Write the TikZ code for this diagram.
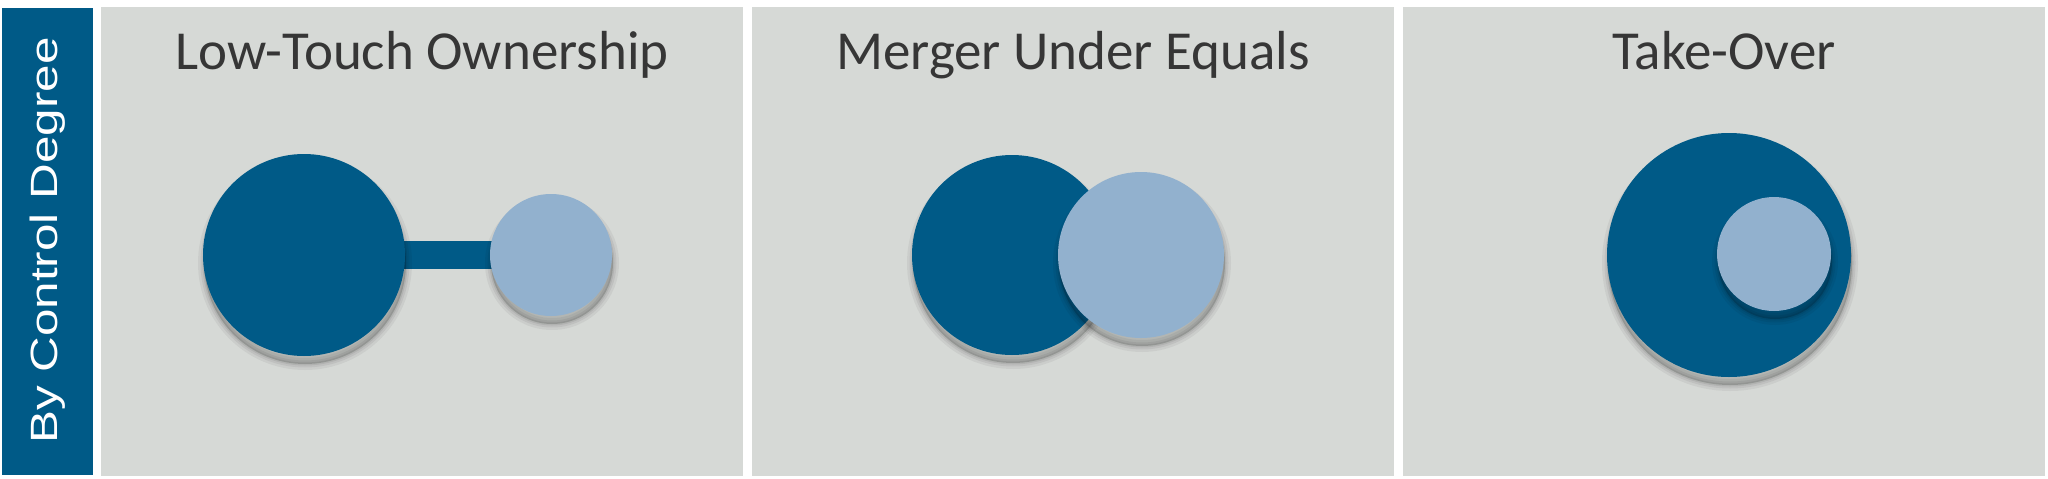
\documentclass[tikz,border=0pt]{standalone}
\usepackage{fontspec}
\usepackage{graphicx}
\setmainfont{Carlito}
\newfontfamily\barfont{Liberation Sans}
\pgfdeclarelayer{panels}
\pgfdeclarelayer{links}
\pgfsetlayers{panels,links,main}
\definecolor{darkblue}{HTML}{005A87}
\definecolor{lightblue}{HTML}{92B1CE}
\definecolor{panelgrey}{HTML}{D6D9D6}
\definecolor{titlegrey}{HTML}{363636}
\begin{document}
\begin{tikzpicture}[x=1pt,y=-1pt]
\tikzset{
 panel/.style={fill=panelgrey, draw=none},
 ttl/.style={anchor=base, text=titlegrey, font=\fontsize{55}{60}\selectfont, inner sep=0pt},
 shd/.style={transform canvas={shift={(1pt,-8pt)}}},
 disc/.style={circle, inner sep=0pt, draw=none,
   preaction={shd, fill=black, fill opacity=0.16, draw=black, draw opacity=0.05, line width=12pt},
   preaction={shd, draw=black, draw opacity=0.06, line width=7pt},
   preaction={shd, draw=black, draw opacity=0.07, line width=3pt}},
 darkdisc/.style={disc, fill=darkblue, minimum size=#1},
 lightdisc/.style={disc, fill=lightblue, minimum size=#1},
 link/.style={draw=darkblue, line width=28pt},
}
\useasboundingbox (0,0) rectangle (2048,479);
\begin{pgfonlayer}{panels}
\fill[white] (0,0) rectangle (2048,479);
\path[panel] (101,7) rectangle (743,476);
\path[panel] (752,7) rectangle (1394,476);
\path[panel] (1403,7) rectangle (2045,476);
\end{pgfonlayer}
% side bar
\fill[darkblue] (2,8) rectangle (93,475);
\node[rotate=90, anchor=base, text=white, inner sep=0pt,
      font=\barfont\fontsize{38}{40}\selectfont] (side) at (57,240.5)
      {\scalebox{1.3}[1]{By Control Degree}};
% titles
\node[ttl] (t1) at (422,69) {Low-Touch Ownership};
\node[ttl] (t2) at (1073,69) {Merger Under Equals};
\node[ttl] (t3) at (1724,69) {Take-Over};
% panel 1
\node[darkdisc=202pt] (a1) at (304,255) {};
\node[lightdisc=122pt] (b1) at (551,255) {};
\begin{pgfonlayer}{links}
\draw[link] (a1.center) -- (b1.center);
\end{pgfonlayer}
% panel 2
\node[darkdisc=200pt] (a2) at (1012,255) {};
\node[lightdisc=166pt] (b2) at (1141,255) {};
% panel 3
\node[darkdisc=244pt] (a3) at (1729,255) {};
\node[lightdisc=114pt] (b3) at (1774,254) {};
\end{tikzpicture}
\end{document}
